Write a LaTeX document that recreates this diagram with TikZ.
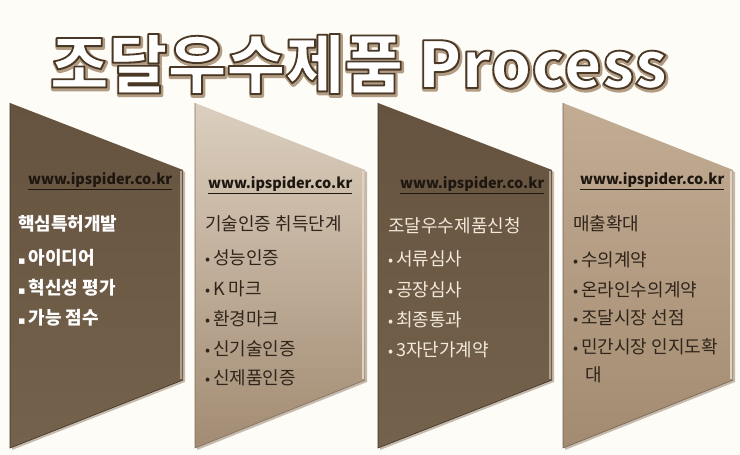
\documentclass[tikz,border=0pt]{standalone}
\usepackage{fontspec}
\setmainfont{Noto Sans CJK KR}
\newfontfamily\symfont{DejaVu Sans}
\definecolor{bgc}{HTML}{FDFCF6}
\definecolor{darkA}{HTML}{66533F}
\definecolor{darkB}{HTML}{75624C}
\definecolor{lightA}{HTML}{DCCFBF}
\definecolor{lightB}{HTML}{A28B72}
\definecolor{midA}{HTML}{C2AC93}
\definecolor{midB}{HTML}{A38B71}
\definecolor{urlc}{HTML}{1E1710}
\definecolor{txtdark}{HTML}{30251B}
\definecolor{txtcream}{HTML}{F2E9DA}
\definecolor{titleline}{HTML}{4A3826}
\definecolor{titlehalo}{HTML}{B29C84}
\definecolor{shadowc}{HTML}{9C8B76}
\definecolor{bevel}{HTML}{E0D2BE}
\definecolor{edge}{HTML}{3E3024}
\newcommand{\haloon}{\special{pdf:literal direct 2 Tr 4.6 w 1 j}}
\newcommand{\strokeon}{\special{pdf:literal direct 1 Tr 1.8 w 1 j}}
\newcommand{\strokeoff}{\special{pdf:literal direct 0 Tr}}
\tikzset{
  urlnode/.style={anchor=west,inner sep=0pt,text=urlc,font=\fontsize{14.5}{16}\selectfont\bfseries},
  headnode/.style={anchor=west,inner sep=0pt,font=\fontsize{18}{20}\selectfont},
  itemnode/.style={anchor=west,inner sep=0pt,font=\fontsize{18}{20}\selectfont},
  titlenode/.style={inner sep=0pt,font=\fontsize{64}{70}\selectfont\bfseries},
  shadowpoly/.style={fill=shadowc!60,draw=none},
  bevelline/.style={draw=bevel,line width=2pt},
  edgeline/.style={draw=edge,line width=0.6pt}
}
\newcommand{\sqb}{{\symfont\fontsize{11}{12}\selectfont ▪}\,}
\newcommand{\rdb}{{\fontsize{15}{15}\selectfont •}\,}
\begin{document}
\begin{tikzpicture}[x=1pt,y=-1pt]
\fill[bgc] (0,0) rectangle (740,455);
\useasboundingbox (0,0) rectangle (740,455);

% title: halo/shadow, white fill, brown outline
\node[titlenode,text=titlehalo] (tshadow) at (359.5,65.5) {\haloon 조달우수제품 Process\strokeoff};
\node[titlenode,text=white] (title) at (358.5,64) {조달우수제품 Process};
\node[titlenode,text=titleline] (toutline) at (358.5,64) {\strokeon 조달우수제품 Process\strokeoff};

% shape 1
\fill[shadowpoly] (12,105) -- (185,172) -- (185,382) -- (12,450) -- cycle;
\shade[top color=darkA,bottom color=darkB] (10,103) -- (183,170) -- (183,380) -- (10,448) -- cycle;
\draw[bevelline,draw=bevel!60!darkA] (181,171) -- (181,379);
\draw[edgeline] (10,103) -- (10,448) -- (183,380);
% shape 2
\fill[shadowpoly] (197,105) -- (367,172) -- (367,382) -- (197,450) -- cycle;
\shade[top color=lightA,bottom color=lightB] (195,103) -- (365,170) -- (365,380) -- (195,448) -- cycle;
\draw[bevelline] (363,171) -- (363,379);
\draw[edgeline,draw=lightB!80!black] (195,103) -- (195,448) -- (365,380);
% shape 3
\fill[shadowpoly] (380,105) -- (554,172) -- (554,382) -- (380,450) -- cycle;
\shade[top color=darkA,bottom color=darkB] (378,103) -- (552,170) -- (552,380) -- (378,448) -- cycle;
\draw[bevelline,draw=bevel!60!darkA] (550,171) -- (550,379);
\draw[edgeline] (378,103) -- (378,448) -- (552,380);
% shape 4
\fill[shadowpoly] (565,105) -- (735,172) -- (735,382) -- (565,450) -- cycle;
\shade[top color=midA,bottom color=midB] (563,103) -- (733,170) -- (733,380) -- (563,448) -- cycle;
\draw[bevelline] (731,171) -- (731,379);
\draw[edgeline,draw=midB!70!black] (563,103) -- (563,448) -- (733,380);

% column 1
\node[urlnode] (u1) at (28,181) {\underline{www.ipspider.co.kr}};
\node[headnode,text=white,font=\fontsize{18}{20}\selectfont\bfseries] (h1) at (18,224) {핵심특허개발};
\node[itemnode,text=white,font=\fontsize{18}{20}\selectfont\bfseries] (a1) at (18,258) {\sqb 아이디어};
\node[itemnode,text=white,font=\fontsize{18}{20}\selectfont\bfseries] (a2) at (18,288) {\sqb 혁신성 평가};
\node[itemnode,text=white,font=\fontsize{18}{20}\selectfont\bfseries] (a3) at (18,318) {\sqb 가능 점수};

% column 2
\node[urlnode] (u2) at (208,185) {\underline{www.ipspider.co.kr}};
\node[headnode,text=txtdark] (h2) at (205,224) {기술인증 취득단계};
\node[itemnode,text=txtdark] (b1) at (205,258) {\rdb 성능인증};
\node[itemnode,text=txtdark] (b2) at (205,289) {\rdb K 마크};
\node[itemnode,text=txtdark] (b3) at (205,319) {\rdb 환경마크};
\node[itemnode,text=txtdark] (b4) at (205,349) {\rdb 신기술인증};
\node[itemnode,text=txtdark] (b5) at (205,378) {\rdb 신제품인증};

% column 3
\node[urlnode] (u3) at (400,185) {\underline{www.ipspider.co.kr}};
\node[headnode,text=txtcream] (h3) at (388,226) {조달우수제품신청};
\node[itemnode,text=txtcream] (c1) at (388,259) {\rdb 서류심사};
\node[itemnode,text=txtcream] (c2) at (388,290) {\rdb 공장심사};
\node[itemnode,text=txtcream] (c3) at (388,320) {\rdb 최종통과};
\node[itemnode,text=txtcream] (c4) at (388,350) {\rdb 3자단가계약};

% column 4
\node[urlnode] (u4) at (580,181) {\underline{www.ipspider.co.kr}};
\node[headnode,text=txtdark] (h4) at (573,224) {매출확대};
\node[itemnode,text=txtdark] (d1) at (573,260) {\rdb 수의계약};
\node[itemnode,text=txtdark] (d2) at (573,290) {\rdb 온라인수의계약};
\node[itemnode,text=txtdark] (d3) at (573,318) {\rdb 조달시장 선점};
\node[itemnode,text=txtdark] (d4) at (573,347) {\rdb 민간시장 인지도확};
\node[itemnode,text=txtdark] (d5) at (585,375) {대};
\end{tikzpicture}
\end{document}
